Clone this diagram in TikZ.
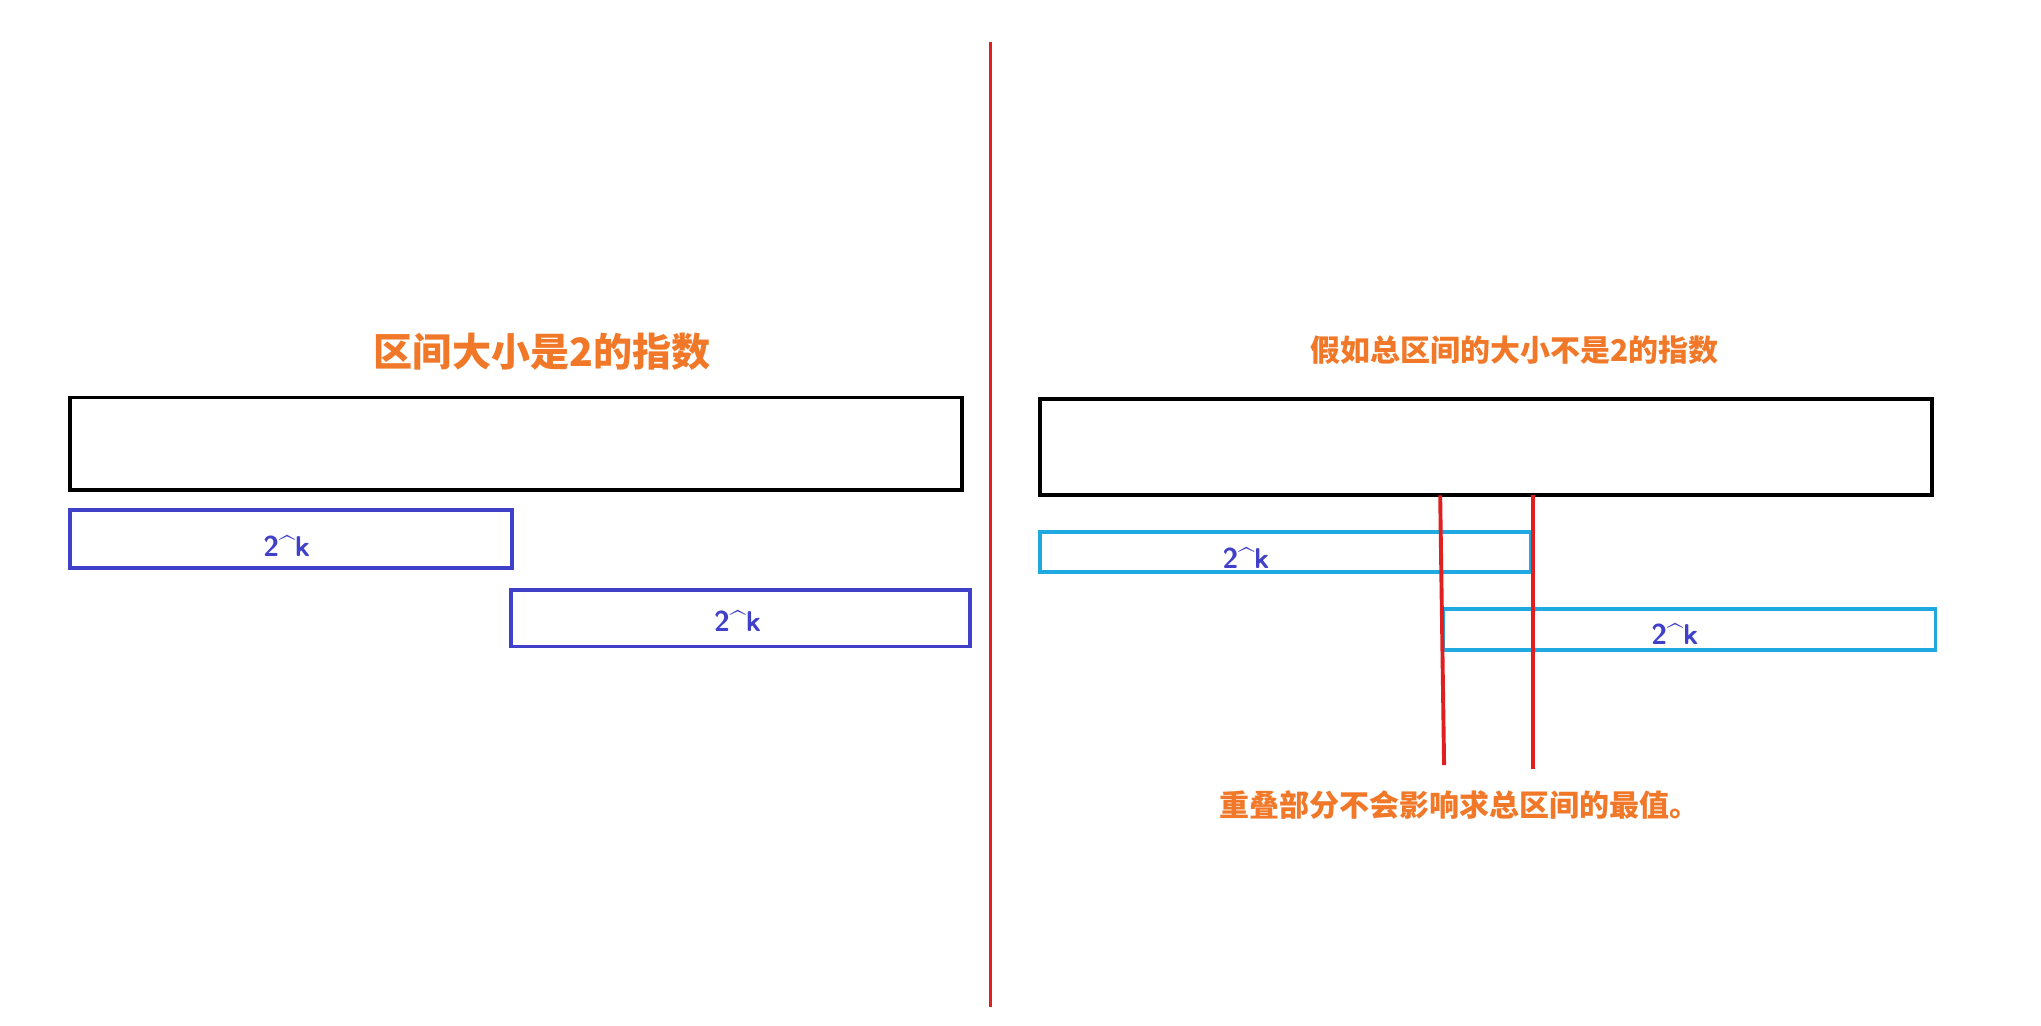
\documentclass[tikz,border=0pt]{standalone}
\usepackage{fontspec}
\setmainfont{Noto Sans CJK SC}
\newfontfamily\cjk{Noto Sans CJK SC}
\definecolor{org}{HTML}{F07828}
\definecolor{blu}{HTML}{4040C8}
\definecolor{cya}{HTML}{20A8E0}
\definecolor{rd}{HTML}{E02020}
\tikzset{x=0.5pt,y=-0.5pt,
 box/.style={draw=#1,line width=1.5pt},
 ttl/.style={text=org,font=\cjk\bfseries\fontsize{#1}{#1}\selectfont,inner sep=0},
 lbl/.style={text=blu,font=\sffamily\bfseries\fontsize{11}{11}\selectfont,inner sep=0},
 redl/.style={draw=rd,line width=1.5pt}}
\begin{document}
\begin{tikzpicture}
\useasboundingbox (0,0) rectangle (1566,787);
\coordinate (ra) at (760,32); \coordinate (rb) at (760,773);
\draw[redl] (ra) -- (rb);
\node[ttl=15] (t1) at (416,270) {区间大小是2的指数};
\draw[box=black] (54,305) rectangle (738,376);
\draw[box=blu] (54,391) rectangle (393,436);
\node[lbl] (k1) at (220,419) {2\^{}k};
\draw[box=blu] (392,453) rectangle (744,496);
\node[lbl] (k2) at (566,476) {2\^{}k};
\node[ttl=11.5] (t2) at (1162,269) {假如总区间的大小不是2的指数};
\draw[box=black] (798,306) rectangle (1482,380);
\draw[box=cya] (798,408) rectangle (1175,439);
\node[lbl] (k3) at (956,428) {2\^{}k};
\draw[box=cya] (1107,467) rectangle (1485,499);
\node[lbl] (k4) at (1285,486) {2\^{}k};
\coordinate (a1) at (1105,380); \coordinate (a2) at (1108,587);
\coordinate (b1) at (1176,380); \coordinate (b2) at (1176,590);
\draw[redl] (a1) -- (a2);
\draw[redl] (b1) -- (b2);
\node[ttl=11.5] (t3) at (1120,618) {重叠部分不会影响求总区间的最值。};
\end{tikzpicture}
\end{document}
